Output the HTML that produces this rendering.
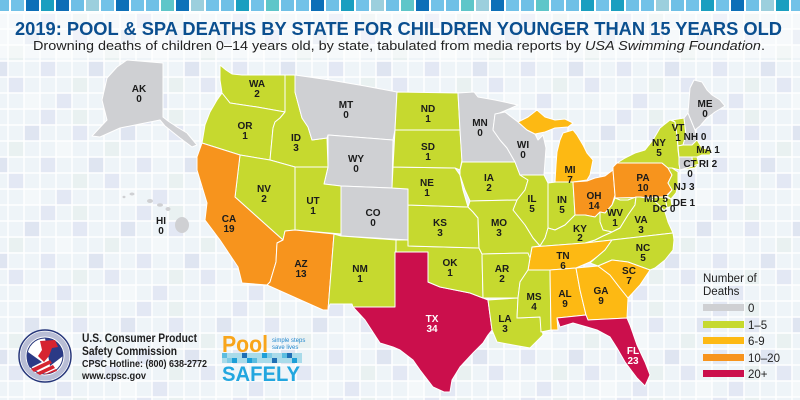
<!DOCTYPE html>
<html><head><meta charset="utf-8"><style>
html,body{margin:0;padding:0;background:#f2f6f9;}
svg{display:block;}
text{font-family:"Liberation Sans",sans-serif;}
.st{stroke:#ffffff;stroke-width:1;stroke-linejoin:round;}
.g{fill:#c6d92f}.k{fill:#cfd0d3}.y{fill:#fdb913}.o{fill:#f7941d}.r{fill:#cb0f4c}
.lb{font-size:10px;font-weight:bold;fill:#1b1b1b;text-anchor:middle;}
.lw{font-size:10px;font-weight:bold;fill:#ffffff;text-anchor:middle;}
.ls{font-size:10px;font-weight:bold;fill:#1b1b1b;}
</style></head><body>
<svg width="800" height="400" viewBox="0 0 800 400" xmlns="http://www.w3.org/2000/svg">
<defs>
<pattern id="tiles" x="8" y="13" width="96" height="96" patternUnits="userSpaceOnUse">
<rect width="96" height="96" fill="#ffffff"/>
<g>
<rect x="0.75" y="0.75" width="14.5" height="14.5" fill="#eef4f8"/><rect x="16.75" y="0.75" width="14.5" height="14.5" fill="#eef4f8"/><rect x="32.75" y="0.75" width="14.5" height="14.5" fill="#e3e8f4"/><rect x="48.75" y="0.75" width="14.5" height="14.5" fill="#eef4f8"/><rect x="64.75" y="0.75" width="14.5" height="14.5" fill="#e9f1f1"/><rect x="80.75" y="0.75" width="14.5" height="14.5" fill="#eef4f8"/>
<rect x="0.75" y="16.75" width="14.5" height="14.5" fill="#eef4f8"/><rect x="16.75" y="16.75" width="14.5" height="14.5" fill="#dfe5f1"/><rect x="32.75" y="16.75" width="14.5" height="14.5" fill="#eef4f8"/><rect x="48.75" y="16.75" width="14.5" height="14.5" fill="#eef4f8"/><rect x="64.75" y="16.75" width="14.5" height="14.5" fill="#e3e8f4"/><rect x="80.75" y="16.75" width="14.5" height="14.5" fill="#eef4f8"/>
<rect x="0.75" y="32.75" width="14.5" height="14.5" fill="#e9f1f1"/><rect x="16.75" y="32.75" width="14.5" height="14.5" fill="#eef4f8"/><rect x="32.75" y="32.75" width="14.5" height="14.5" fill="#eef4f8"/><rect x="48.75" y="32.75" width="14.5" height="14.5" fill="#f4f8fa"/><rect x="64.75" y="32.75" width="14.5" height="14.5" fill="#eef4f8"/><rect x="80.75" y="32.75" width="14.5" height="14.5" fill="#eef4f8"/>
<rect x="0.75" y="48.75" width="14.5" height="14.5" fill="#eef4f8"/><rect x="16.75" y="48.75" width="14.5" height="14.5" fill="#eef4f8"/><rect x="32.75" y="48.75" width="14.5" height="14.5" fill="#e3e8f4"/><rect x="48.75" y="48.75" width="14.5" height="14.5" fill="#eef4f8"/><rect x="64.75" y="48.75" width="14.5" height="14.5" fill="#eef4f8"/><rect x="80.75" y="48.75" width="14.5" height="14.5" fill="#dfe5f1"/>
<rect x="0.75" y="64.75" width="14.5" height="14.5" fill="#e3e8f4"/><rect x="16.75" y="64.75" width="14.5" height="14.5" fill="#eef4f8"/><rect x="32.75" y="64.75" width="14.5" height="14.5" fill="#eef4f8"/><rect x="48.75" y="64.75" width="14.5" height="14.5" fill="#eef4f8"/><rect x="64.75" y="64.75" width="14.5" height="14.5" fill="#e9f1f1"/><rect x="80.75" y="64.75" width="14.5" height="14.5" fill="#eef4f8"/>
<rect x="0.75" y="80.75" width="14.5" height="14.5" fill="#eef4f8"/><rect x="16.75" y="80.75" width="14.5" height="14.5" fill="#f4f8fa"/><rect x="32.75" y="80.75" width="14.5" height="14.5" fill="#eef4f8"/><rect x="48.75" y="80.75" width="14.5" height="14.5" fill="#e3e8f4"/><rect x="64.75" y="80.75" width="14.5" height="14.5" fill="#eef4f8"/><rect x="80.75" y="80.75" width="14.5" height="14.5" fill="#eef4f8"/>
</g>
</pattern>
</defs>
<rect width="800" height="400" fill="url(#tiles)"/>
<!-- top strip -->
<g>
<rect x="0" y="0" width="800" height="12" fill="#ffffff"/>
<rect x="0" y="0" width="9" height="11" fill="#6fc0e6"/>
<rect x="11" y="0" width="13" height="11" fill="#72c2e8"/>
<rect x="26" y="0" width="13" height="11" fill="#0c6fb8"/>
<rect x="41" y="0" width="13" height="11" fill="#1a9fc0"/>
<rect x="56" y="0" width="13" height="11" fill="#0e6db6"/>
<rect x="71" y="0" width="13" height="11" fill="#6ebfe6"/>
<rect x="86" y="0" width="13" height="11" fill="#9ccfdd"/>
<rect x="101" y="0" width="13" height="11" fill="#72c2e8"/>
<rect x="116" y="0" width="13" height="11" fill="#0d70b8"/>
<rect x="131" y="0" width="13" height="11" fill="#72c2e8"/>
<rect x="146" y="0" width="13" height="11" fill="#6fc0e6"/>
<rect x="161" y="0" width="13" height="11" fill="#5ec6c9"/>
<rect x="176" y="0" width="13" height="11" fill="#0e72b9"/>
<rect x="191" y="0" width="13" height="11" fill="#9ccfdd"/>
<rect x="206" y="0" width="13" height="11" fill="#72c2e8"/>
<rect x="221" y="0" width="13" height="11" fill="#6fc0e6"/>
<rect x="236" y="0" width="13" height="11" fill="#1a9fc0"/>
<rect x="251" y="0" width="13" height="11" fill="#72c2e8"/>
<rect x="266" y="0" width="13" height="11" fill="#5ec6c9"/>
<rect x="281" y="0" width="13" height="11" fill="#6fc0e6"/>
<rect x="296" y="0" width="13" height="11" fill="#72c2e8"/>
<rect x="311" y="0" width="13" height="11" fill="#0c6fb8"/>
<rect x="326" y="0" width="13" height="11" fill="#6fc0e6"/>
<rect x="341" y="0" width="13" height="11" fill="#1a9fc0"/>
<rect x="356" y="0" width="13" height="11" fill="#72c2e8"/>
<rect x="371" y="0" width="13" height="11" fill="#9ccfdd"/>
<rect x="386" y="0" width="13" height="11" fill="#6fc0e6"/>
<rect x="401" y="0" width="13" height="11" fill="#5ec6c9"/>
<rect x="416" y="0" width="13" height="11" fill="#0c6fb8"/>
<rect x="431" y="0" width="13" height="11" fill="#72c2e8"/>
<rect x="446" y="0" width="13" height="11" fill="#6fc0e6"/>
<rect x="461" y="0" width="13" height="11" fill="#5ec6c9"/>
<rect x="476" y="0" width="13" height="11" fill="#9ccfdd"/>
<rect x="491" y="0" width="13" height="11" fill="#0d70b8"/>
<rect x="506" y="0" width="13" height="11" fill="#72c2e8"/>
<rect x="521" y="0" width="13" height="11" fill="#6fc0e6"/>
<rect x="536" y="0" width="13" height="11" fill="#5ec6c9"/>
<rect x="551" y="0" width="13" height="11" fill="#72c2e8"/>
<rect x="566" y="0" width="13" height="11" fill="#6fc0e6"/>
<rect x="581" y="0" width="13" height="11" fill="#1a9fc0"/>
<rect x="596" y="0" width="13" height="11" fill="#72c2e8"/>
<rect x="611" y="0" width="13" height="11" fill="#1a9fc0"/>
<rect x="626" y="0" width="13" height="11" fill="#6fc0e6"/>
<rect x="641" y="0" width="13" height="11" fill="#72c2e8"/>
<rect x="656" y="0" width="13" height="11" fill="#9ccfdd"/>
<rect x="671" y="0" width="13" height="11" fill="#6fc0e6"/>
<rect x="686" y="0" width="13" height="11" fill="#72c2e8"/>
<rect x="701" y="0" width="13" height="11" fill="#1a9fc0"/>
<rect x="716" y="0" width="13" height="11" fill="#72c2e8"/>
<rect x="731" y="0" width="13" height="11" fill="#0c6fb8"/>
<rect x="746" y="0" width="13" height="11" fill="#6fc0e6"/>
<rect x="761" y="0" width="13" height="11" fill="#9ccfdd"/>
<rect x="776" y="0" width="13" height="11" fill="#1a9fc0"/>
<rect x="791" y="0" width="13" height="11" fill="#72c2e8"/>
</g>
<!-- lighter header wash -->
<rect x="0" y="12" width="800" height="46" fill="#ffffff" opacity="0.45"/>

<text x="15" y="35" font-size="18" font-weight="bold" fill="#0b4f8f" textLength="767" lengthAdjust="spacingAndGlyphs">2019: POOL &amp; SPA DEATHS BY STATE FOR CHILDREN YOUNGER THAN 15 YEARS OLD</text>
<text x="33" y="50" font-size="13" fill="#222222" textLength="732" lengthAdjust="spacingAndGlyphs">Drowning deaths of children 0–14 years old, by state, tabulated from media reports by <tspan font-style="italic">USA Swimming Foundation</tspan>.</text>

<!-- map -->
<g class="st">
<polygon class="g" points="220,65 226,70 232,74 242,75 285,75 285,112 257,107 230,103 222,93 220,80"/>
<polygon class="g" points="230,103 257,107 285,112 280,118 275,122 273,128 270,160 240,155 202,143 205,125 210,112 217,100 222,93"/>
<polygon class="g" points="285,75 295,75 295,92 302,118 308,127 312,140 327,138 328,167 295,167 270,160 273,128 275,122 280,118 285,112"/>
<polygon class="k" points="295,75 330,80 365,86 397,92 395,130 393,140 328,135 327,138 312,140 308,127 302,118 295,92"/>
<polygon class="k" points="328,135 393,140 392,188 341,186 324,184 328,167"/>
<polygon class="g" points="295,167 328,167 324,184 341,186 341,234 295,230"/>
<polygon class="g" points="240,155 270,160 295,167 295,230 285,231 283,240 235,197"/>
<polygon class="o" points="202,143 240,155 235,197 283,240 277,243 276,262 270,282 267,285 242,283 238,267 220,240 205,220 207,203 197,170 197,157"/>
<polygon class="o" points="285,231 295,230 334,234 328,310 323,310 267,285 270,282 276,262 277,243 283,240"/>
<polygon class="k" points="341,186 392,188 408,189 409,240 341,236"/>
<polygon class="g" points="334,234 341,236 396,240 395,307 353,307 352,304 330,304 328,310"/>
<polygon class="r" points="395,252 428,252 428,282 440,287 455,290 470,293 483,298 488,300 490,315 492,330 488,335 483,343 473,353 460,367 452,380 450,392 444,392 433,387 420,370 413,360 400,350 393,347 380,343 365,320 353,307 395,307"/>
<polygon class="g" points="396,240 409,240 408,246 479,248 482,254 483,298 470,293 455,290 440,287 428,282 428,252 396,252"/>
<polygon class="g" points="408,205 468,207 473,212 478,218 479,248 408,246"/>
<polygon class="g" points="393,167 455,168 460,175 463,190 468,207 408,205 408,189 392,188"/>
<polygon class="g" points="395,130 460,130 462,160 460,170 455,168 393,167"/>
<polygon class="g" points="397,92 458,93 460,130 395,130"/>
<polygon class="k" points="458,93 474,92 478,97 495,100 518,105 502,112 495,115 493,130 500,140 507,148 515,162 462,162 460,130"/>
<polygon class="g" points="462,162 515,162 520,175 528,180 525,190 517,200 470,201 465,190 460,175 460,170"/>
<polygon class="k" points="493,130 495,114 505,112 518,122 527,130 535,134 538,140 543,135 546,148 544,175 520,175 515,162 507,148 500,140"/>
<polygon class="y" points="518,122 528,117 537,110 545,117 555,120 565,119 573,123 568,127 555,128 545,132 535,134 527,130"/>
<polygon class="y" points="555,182 556,165 557,152 560,140 563,133 573,130 577,135 583,145 587,153 593,160 590,175 587,180 573,182"/>
<polygon class="g" points="520,175 544,175 548,183 548,228 545,238 540,246 533,238 525,225 513,210 517,200 525,190 528,180"/>
<polygon class="g" points="548,183 556,182 573,182 575,215 570,220 565,225 555,230 548,228"/>
<polygon class="o" points="573,182 587,181 595,178 605,176 613,170 615,195 612,205 605,213 600,212 595,217 585,215 575,215"/>
<polygon class="o" points="613,167 617,163 662,163 668,168 672,175 668,183 672,190 665,197 615,198 615,195 613,170"/>
<polygon class="g" points="617,163 625,158 635,153 645,150 653,140 660,128 670,120 675,122 677,135 678,150 679,158 680,165 700,163 695,168 680,170 672,168 668,168 662,163"/>
<polygon class="g" points="672,120 684,118 686,135 683,145 678,146 677,135 675,122"/>
<polygon class="k" points="684,118 688,113 695,130 697,140 692,145 683,145 686,135"/>
<polygon class="k" points="688,113 690,88 694,80 702,82 707,90 712,95 720,100 725,106 715,112 707,118 700,126 695,130"/>
<polygon class="g" points="678,146 683,145 692,145 697,140 702,148 712,150 710,155 702,155 697,157 679,157"/>
<polygon class="k" points="679,157 692,157 693,166 680,170 679,164"/>
<polygon class="g" points="692,157 697,157 699,164 693,166"/>
<polygon class="g" points="668,168 672,168 678,172 678,185 676,193 671,199 667,196 672,190 668,183 672,175"/>
<polygon class="g" points="665,197 671,199 672,206 667,208"/>
<polygon class="g" points="615,198 665,197 667,208 662,212 658,205 652,199 640,197 628,200 620,200"/>
<polygon class="g" points="600,212 605,213 612,205 615,198 620,200 628,200 636,197 635,205 628,215 620,228 612,232 603,230 600,222"/>
<polygon class="g" points="585,243 673,233 668,222 665,212 660,206 652,199 640,197 636,197 635,205 628,215 620,228 612,232 603,236 595,240"/>
<polygon class="g" points="540,246 545,238 548,228 555,230 565,225 570,220 575,215 585,215 595,217 600,212 600,222 603,230 612,232 603,236 595,240 585,243 532,247"/>
<polygon class="y" points="532,247 585,243 612,240 605,250 598,256 590,262 576,268 550,270 528,270 530,258"/>
<polygon class="g" points="612,240 673,233 674,240 673,250 665,260 655,268 650,270 628,262 612,260 598,266 590,263 598,256 605,250"/>
<polygon class="g" points="470,201 517,200 513,210 525,225 533,238 540,246 532,247 530,258 528,258 528,253 482,254 479,248 478,218 473,212 468,207"/>
<polygon class="g" points="482,254 528,253 530,258 528,270 520,282 518,298 483,298"/>
<polygon class="g" points="488,300 518,298 517,318 540,317 543,335 530,348 513,345 497,342 492,330 490,315"/>
<polygon class="g" points="528,270 550,270 551,330 541,332 540,317 517,318 518,298 520,282"/>
<polygon class="y" points="550,270 576,268 580,290 586,315 557,318 558,330 551,330"/>
<polygon class="y" points="576,268 598,266 610,275 620,288 628,298 627,318 588,320 586,315 580,290"/>
<polygon class="y" points="598,266 612,260 628,262 650,270 640,285 628,298 620,288 610,275"/>
<polygon class="r" points="557,318 586,315 588,320 627,318 630,325 637,345 645,362 650,375 645,386 637,378 625,362 617,348 610,337 597,330 587,327 573,323 560,327"/>
<polygon class="k" points="117,67 127,60 163,63 163,117 168,121 177,127 187,133 197,145 192,147 180,138 165,126 160,120 140,124 120,128 100,137 92,136 107,120 102,100 107,78"/>
</g>
<g class="k">
<ellipse cx="124" cy="197" rx="1.5" ry="1.2"/>
<ellipse cx="132" cy="194" rx="2.5" ry="1.5"/>
<ellipse cx="150" cy="201" rx="3" ry="2"/>
<ellipse cx="160" cy="205" rx="3" ry="1.8"/>
<ellipse cx="168" cy="209" rx="2.5" ry="2"/>
<ellipse cx="182" cy="225" rx="7" ry="8"/>
</g>

<!-- state labels -->
<g>
<text class="lb" x="257" y="87">WA</text><text class="lb" x="257" y="97">2</text>
<text class="lb" x="245" y="129">OR</text><text class="lb" x="245" y="139">1</text>
<text class="lb" x="296" y="141">ID</text><text class="lb" x="296" y="151">3</text>
<text class="lb" x="346" y="108">MT</text><text class="lb" x="346" y="118">0</text>
<text class="lb" x="428" y="112">ND</text><text class="lb" x="428" y="122">1</text>
<text class="lb" x="428" y="150">SD</text><text class="lb" x="428" y="160">1</text>
<text class="lb" x="427" y="186">NE</text><text class="lb" x="427" y="196">1</text>
<text class="lb" x="356" y="162">WY</text><text class="lb" x="356" y="172">0</text>
<text class="lb" x="264" y="192">NV</text><text class="lb" x="264" y="202">2</text>
<text class="lb" x="313" y="204">UT</text><text class="lb" x="313" y="214">1</text>
<text class="lb" x="373" y="216">CO</text><text class="lb" x="373" y="226">0</text>
<text class="lb" x="229" y="222">CA</text><text class="lb" x="229" y="232">19</text>
<text class="lb" x="301" y="267">AZ</text><text class="lb" x="301" y="277">13</text>
<text class="lb" x="360" y="272">NM</text><text class="lb" x="360" y="282">1</text>
<text class="lw" x="432" y="322">TX</text><text class="lw" x="432" y="332">34</text>
<text class="lb" x="440" y="226">KS</text><text class="lb" x="440" y="236">3</text>
<text class="lb" x="480" y="126">MN</text><text class="lb" x="480" y="136">0</text>
<text class="lb" x="523" y="148">WI</text><text class="lb" x="523" y="158">0</text>
<text class="lb" x="570" y="173">MI</text><text class="lb" x="570" y="183">7</text>
<text class="lb" x="489" y="181">IA</text><text class="lb" x="489" y="191">2</text>
<text class="lb" x="532" y="202">IL</text><text class="lb" x="532" y="212">5</text>
<text class="lb" x="562" y="203">IN</text><text class="lb" x="562" y="213">5</text>
<text class="lb" x="594" y="199">OH</text><text class="lb" x="594" y="209">14</text>
<text class="lb" x="643" y="181">PA</text><text class="lb" x="643" y="191">10</text>
<text class="lb" x="659" y="146">NY</text><text class="lb" x="659" y="156">5</text>
<text class="lb" x="499" y="226">MO</text><text class="lb" x="499" y="236">3</text>
<text class="lb" x="615" y="216">WV</text><text class="lb" x="615" y="226">1</text>
<text class="lb" x="641" y="223">VA</text><text class="lb" x="641" y="233">3</text>
<text class="lb" x="580" y="232">KY</text><text class="lb" x="580" y="241">2</text>
<text class="lb" x="450" y="266">OK</text><text class="lb" x="450" y="276">1</text>
<text class="lb" x="502" y="272">AR</text><text class="lb" x="502" y="282">2</text>
<text class="lb" x="563" y="259">TN</text><text class="lb" x="563" y="269">6</text>
<text class="lb" x="643" y="251">NC</text><text class="lb" x="643" y="261">5</text>
<text class="lb" x="629" y="274">SC</text><text class="lb" x="629" y="284">7</text>
<text class="lb" x="534" y="300">MS</text><text class="lb" x="534" y="310">4</text>
<text class="lb" x="565" y="297">AL</text><text class="lb" x="565" y="307">9</text>
<text class="lb" x="601" y="294">GA</text><text class="lb" x="601" y="304">9</text>
<text class="lb" x="505" y="322">LA</text><text class="lb" x="505" y="332">3</text>
<text class="lw" x="633" y="354">FL</text><text class="lw" x="633" y="364">23</text>
<text class="lb" x="139" y="92">AK</text><text class="lb" x="139" y="102">0</text>
<text class="lb" x="161" y="224">HI</text><text class="lb" x="161" y="234">0</text>
<text class="lb" x="705" y="107">ME</text><text class="lb" x="705" y="117">0</text>
<text class="lb" x="678" y="131">VT</text><text class="lb" x="678" y="141">1</text>
<text class="lb" x="690" y="167">CT</text><text class="lb" x="690" y="177">0</text>
<text class="lb" x="695" y="140">NH 0</text>
<text class="lb" x="708" y="153">MA 1</text>
<text class="lb" x="708" y="167">RI 2</text>
<text class="lb" x="684" y="190">NJ 3</text>
<text class="lb" x="656" y="202">MD 5</text>
<text class="lb" x="684" y="206">DE 1</text>
<text class="lb" x="664" y="212">DC 0</text>
</g>

<!-- legend -->
<g font-size="11.5" fill="#222222">
<text x="703" y="282">Number of</text>
<text x="703" y="295">Deaths</text>
<rect x="703" y="304" width="41" height="7" fill="#cfd0d3"/>
<rect x="703" y="321" width="41" height="7" fill="#c6d92f"/>
<rect x="703" y="337" width="41" height="7" fill="#fdb913"/>
<rect x="703" y="354" width="41" height="7" fill="#f7941d"/>
<rect x="703" y="370" width="41" height="7" fill="#cb0f4c"/>
<text x="748" y="312">0</text>
<text x="748" y="329">1–5</text>
<text x="748" y="345">6-9</text>
<text x="748" y="362">10–20</text>
<text x="748" y="378">20+</text>
</g>

<!-- CPSC logo -->
<g>
<circle cx="45" cy="356" r="26" fill="#ffffff" stroke="#26367a" stroke-width="1.5"/>
<circle cx="45" cy="356" r="22" fill="none" stroke="#7d86b3" stroke-width="5" opacity="0.55"/>
<circle cx="45" cy="356" r="18" fill="#ffffff" stroke="#26367a" stroke-width="1"/>
<path d="M45,338 A18,18 0 0 1 63,356 L50,366 Z" fill="#2b3a86"/>
<path d="M28,352 L42,362 L30,368 A18,18 0 0 1 28,352 Z" fill="#2b3a86"/>
<path d="M40,341 L55,340 L58,347 L52,348 L49,356 L44,362 L38,356 L42,350 Z" fill="#d62430"/>
<path d="M31,369 L50,360 L52,363 L34,372 Z" fill="#d62430"/>
<path d="M36,373 L53,365 L55,368 L40,375 Z" fill="#d62430"/>
<path d="M43,375 L56,369 L57,371 L47,374 Z" fill="#d62430"/>
</g>
<text x="82" y="342" font-size="12" font-weight="bold" fill="#1e1e1e" textLength="115" lengthAdjust="spacingAndGlyphs">U.S. Consumer Product</text>
<text x="82" y="355" font-size="12" font-weight="bold" fill="#1e1e1e" textLength="95" lengthAdjust="spacingAndGlyphs">Safety Commission</text>
<text x="82" y="367" font-size="10" font-weight="bold" fill="#1e1e1e" textLength="125" lengthAdjust="spacingAndGlyphs">CPSC  Hotline: (800) 638-2772</text>
<text x="82" y="379" font-size="10" font-weight="bold" fill="#1e1e1e" textLength="64" lengthAdjust="spacingAndGlyphs">www.cpsc.gov</text>

<!-- Pool Safely logo -->
<text x="222" y="352" font-size="23" font-weight="bold" fill="#f8a51b" textLength="46" lengthAdjust="spacingAndGlyphs">Pool</text>
<text x="272" y="342" font-size="6" fill="#1f86cc">simple steps</text>
<text x="272" y="349" font-size="6" fill="#1f86cc">save lives</text>
<g>
<rect x="222" y="353" width="80" height="10" fill="#a9dbea"/>
<rect x="222" y="353" width="5" height="5" fill="#5bbde0"/><rect x="232" y="358" width="5" height="5" fill="#1d9fd8"/>
<rect x="242" y="353" width="5" height="5" fill="#1e6fb5"/><rect x="252" y="358" width="5" height="5" fill="#5bbde0"/>
<rect x="262" y="353" width="5" height="5" fill="#1d9fd8"/><rect x="272" y="358" width="5" height="5" fill="#1e6fb5"/>
<rect x="282" y="353" width="5" height="5" fill="#5bbde0"/><rect x="292" y="358" width="5" height="5" fill="#1d9fd8"/>
<rect x="227" y="358" width="5" height="5" fill="#7fcbe6"/><rect x="247" y="358" width="5" height="5" fill="#1d9fd8"/>
<rect x="267" y="353" width="5" height="5" fill="#7fcbe6"/><rect x="287" y="353" width="5" height="5" fill="#1e6fb5"/>
</g>
<text x="222" y="381" font-size="21" font-weight="bold" fill="#22a6df" textLength="78" lengthAdjust="spacingAndGlyphs">SAFELY</text>
</svg>
</body></html>
